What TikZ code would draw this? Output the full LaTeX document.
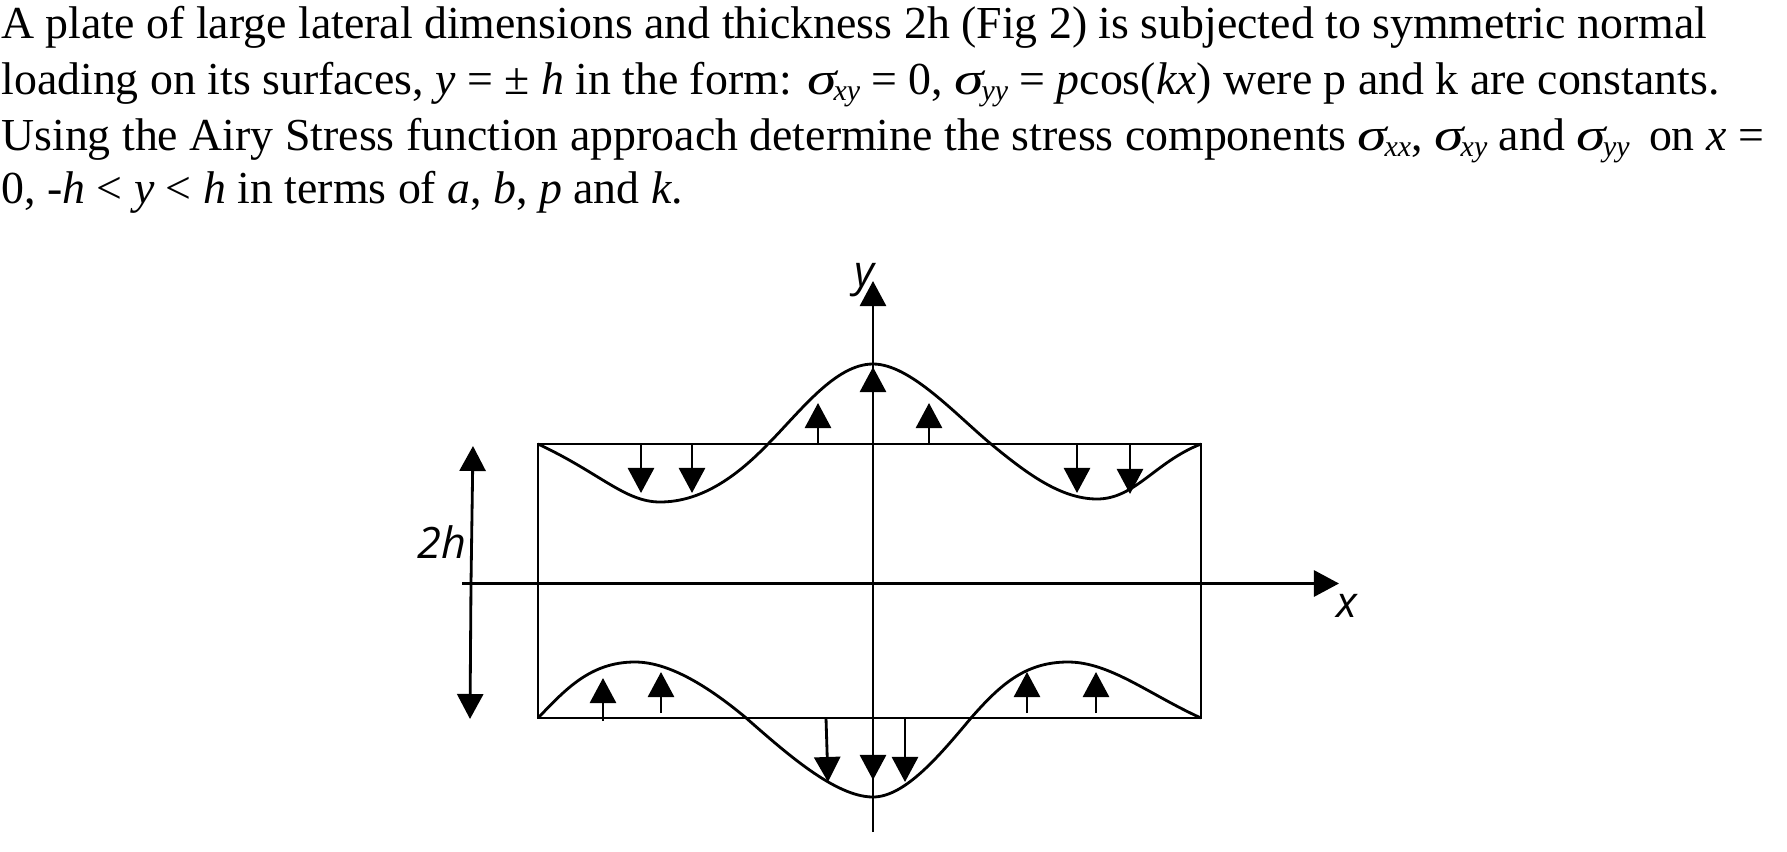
\documentclass[tikz,border=0pt]{standalone}
\usepackage{fontspec}
\setmainfont{Liberation Serif}
\newfontfamily\labelfont{Open Sans}
\usetikzlibrary{arrows.meta}
\newcommand{\stress}[1]{\scalebox{1.3}[1]{\textit{σ}}\kern-0.1em\raisebox{-0.3ex}{\fontsize{8.5pt}{9pt}\selectfont\textit{#1}}}
\begin{document}
\begin{tikzpicture}[x=0.01cm, y=-0.01cm, line width=0.8pt,
  carga/.style={-{Triangle[length=2.5mm,width=2.6mm]}},
  linea/.style={anchor=base west, inner sep=0pt, font=\fontsize{13.03pt}{15pt}\selectfont},
  etiqueta/.style={anchor=base west, inner sep=0pt, font=\fontsize{12.3pt}{15pt}\labelfont\itshape}]
\useasboundingbox (0,0) rectangle (1787,851);

% Enunciado, linea por linea
\node[linea] (linea1) at (0,38) {A plate of large lateral dimensions and thickness 2h (Fig 2) is subjected to symmetric normal};
\node[linea] (linea2) at (0,94) {loading on its surfaces, \textit{y} = ± \textit{h} in the form: \stress{xy} = 0, \stress{yy} = \textit{p}cos(\textit{kx}) were p and k are constants.};
\node[linea] (linea3) at (0,150) {Using the Airy Stress function approach determine the stress components \stress{xx}, \stress{xy} and \stress{yy}\hspace{0.08cm} on \textit{x} =};
\node[linea] (linea4) at (0,203) {0, -\textit{h} < \textit{y} < \textit{h} in terms of \textit{a}, \textit{b}, \textit{p} and \textit{k}.};

% Placa y ejes
\draw (538,444) rectangle (1201,718);
\draw[carga] (462,583.5) -- (1339,583.5);
\draw[carga] (873,832) -- (873,281);

% Espesor
\draw[carga] (471,583.5) -- (473,446);
\draw[carga] (471,583.5) -- (470,719);

% Cargas sobre la cara superior
\draw (538,444) .. controls (600,473) and (625,502) .. (660,502)
  .. controls (700,502) and (735,478) .. (767,445)
  .. controls (800,412) and (835,364) .. (873,364)
  .. controls (910,364) and (955,414) .. (991,444)
  .. controls (1025,472) and (1060,499) .. (1097,499)
  .. controls (1135,499) and (1155,462) .. (1201,444);
\draw[carga] (641,444) -- (641,493);
\draw[carga] (692,444) -- (692,493);
\draw[carga] (818,444) -- (818,403);
\draw[carga] (873,444) -- (873,367);
\draw[carga] (929,444) -- (929,403);
\draw[carga] (1077,444) -- (1077,493);
\draw[carga] (1130,444) -- (1130,494);

% Cargas sobre la cara inferior
\draw (538,718) .. controls (565,690) and (590,662) .. (635,662)
  .. controls (670,662) and (710,688) .. (745,717)
  .. controls (785,752) and (835,797) .. (873,797)
  .. controls (905,797) and (940,755) .. (971,718)
  .. controls (1000,685) and (1025,662) .. (1068,662)
  .. controls (1110,662) and (1150,695) .. (1201,718);
\draw[carga] (603,721) -- (603,678);
\draw[carga] (661,713) -- (661,672);
\draw[carga] (826,718) -- (828,782);
\draw[carga] (873,718) -- (873,780);
\draw[carga] (905,718) -- (905,782);
\draw[carga] (1027,713) -- (1027,672);
\draw[carga] (1096,713) -- (1096,672);

% Etiquetas
\node[etiqueta] (alto) at (416,558) {2h};
\node[etiqueta] (ejey) at (853,286) {y};
\node[etiqueta] (ejex) at (1335,617) {x};
\end{tikzpicture}
\end{document}
